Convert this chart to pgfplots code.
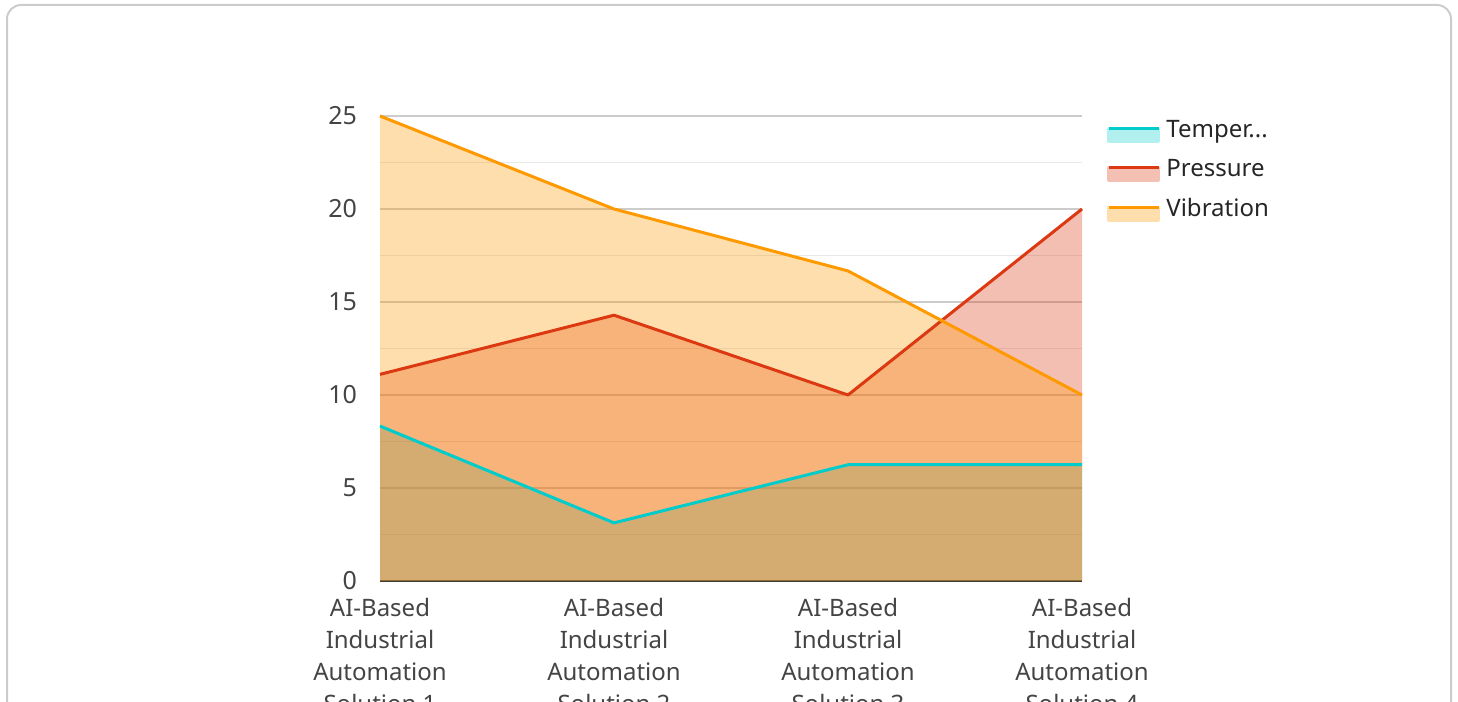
\documentclass[border=0pt]{standalone}
\usepackage{pgfplots}
\pgfplotsset{compat=1.18}
\usepackage{fontspec}
\setmainfont{Noto Sans}
\definecolor{cT}{RGB}{0,204,204}
\definecolor{cP}{RGB}{220,57,18}
\definecolor{cV}{RGB}{255,153,0}
\definecolor{tick}{RGB}{68,68,68}
\begin{document}
\begin{tikzpicture}
\useasboundingbox (0,0) rectangle (729bp,351bp);
\draw[draw={rgb,255:red,204;green,204;blue,204}, line width=1bp, rounded corners=7bp] (3.5bp,-20bp) rectangle (725.5bp,348.5bp);
\begin{axis}[
  at={(190bp,60.5bp)}, anchor=south west,
  scale only axis, width=351bp, height=232.5bp,
  xmin=0, xmax=3, ymin=0, ymax=25,
  xtick={0,1,2,3},
  xticklabels={{AI-Based\\Industrial\\Automation\\Solution 1},{AI-Based\\Industrial\\Automation\\Solution 2},{AI-Based\\Industrial\\Automation\\Solution 3},{AI-Based\\Industrial\\Automation\\Solution 4}},
  xticklabel style={align=center, font=\fontsize{12bp}{16bp}\selectfont, text=tick, yshift=-5bp},
  ytick={0,5,10,15,20,25},
  minor ytick={2.5,7.5,12.5,17.5,22.5},
  yticklabel style={font=\fontsize{12.5bp}{14bp}\selectfont, text=tick, xshift=-8bp},
  /pgf/number format/assume math mode=true,
  ymajorgrids, yminorgrids,
  major grid style={draw={rgb,255:red,204;green,204;blue,204}, line width=0.6bp},
  minor grid style={draw={rgb,255:red,232;green,232;blue,232}, line width=0.6bp},
  axis x line*=bottom, axis y line*=left,
  x axis line style={draw={rgb,255:red,51;green,51;blue,51}, line width=1bp, -},
  y axis line style={draw=none},
  major tick length=0pt, minor tick length=0pt,
  legend style={draw=none, fill=none, at={(1,1)}, anchor=north west, xshift=12.5bp, yshift=0bp,
    font=\fontsize{12bp}{14bp}\selectfont, row sep=5.5bp, inner sep=0pt, text=black!85,
    nodes={inner xsep=3bp}},
  legend cell align=left,
  clip=false,
]
\addplot[draw=none, fill=cT, fill opacity=0.3, forget plot] coordinates {(0,8.33) (1,3.125) (2,6.25) (3,6.25)} \closedcycle;
\addplot[draw=none, fill=cP, fill opacity=0.32, forget plot] coordinates {(0,11.11) (1,14.29) (2,10) (3,20)} \closedcycle;
\addplot[draw=none, fill=cV, fill opacity=0.32, forget plot] coordinates {(0,25) (1,20) (2,16.67) (3,10)} \closedcycle;
\addplot[draw=cT, line width=1.5bp, line join=round,
  legend image code/.code={\fill[cT!30] (0bp,-5.5bp) rectangle (25bp,1bp); \draw[cT, line width=1.5bp] (0bp,1bp)--(25bp,1bp);}]
  coordinates {(0,8.33) (1,3.125) (2,6.25) (3,6.25)};
\addlegendentry{Temper...}
\addplot[draw=cP, line width=1.5bp, line join=round,
  legend image code/.code={\fill[cP!32] (0bp,-5.5bp) rectangle (25bp,1bp); \draw[cP, line width=1.5bp] (0bp,1bp)--(25bp,1bp);}]
  coordinates {(0,11.11) (1,14.29) (2,10) (3,20)};
\addlegendentry{Pressure}
\addplot[draw=cV, line width=1.5bp, line join=round,
  legend image code/.code={\fill[cV!32] (0bp,-5.5bp) rectangle (25bp,1bp); \draw[cV, line width=1.5bp] (0bp,1bp)--(25bp,1bp);}]
  coordinates {(0,25) (1,20) (2,16.67) (3,10)};
\addlegendentry{Vibration}
\end{axis}
\end{tikzpicture}
\end{document}
